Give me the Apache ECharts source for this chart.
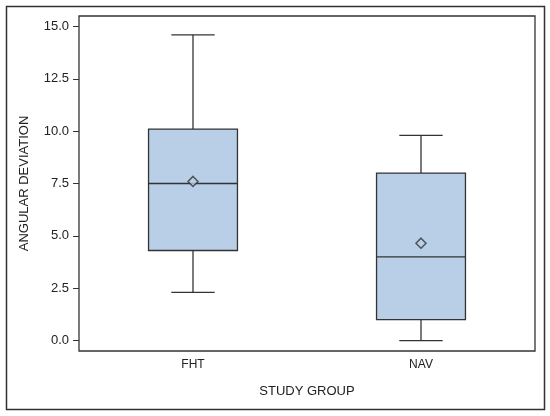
<!DOCTYPE html>
<html>
<head>
<meta charset="utf-8">
<script src="https://cdn.jsdelivr.net/npm/echarts@6/dist/echarts.min.js"></script>
<style>
    html, body { margin: 0; padding: 0; background: #fff; }
    #chartRoot { width: 550px; height: 416px; }
</style>
</head>
<body>
<div id="chartRoot"></div>
<script>
// 组别与箱线图数值（min, Q1, median, Q3, max），读自原图
const groups = ["FHT", "NAV"];
const boxStats = [
    [2.3, 4.3, 7.5, 10.1, 14.6],
    [0.0, 1.0, 4.0, 8.0, 9.8]
];
const means = [7.6, 4.65];
const yTicks = [0, 2.5, 5, 7.5, 10, 12.5, 15];

const textColor = "#222";
const lineColor = "#333";
const boxFill = "#b9cfe8";

// 箱体宽度与须线端帽宽度（占类目带宽的比例）
const boxRatio = 0.39;
const capRatio = 0.19;

let renderBox = (params, api) => {
    const idx = api.value(0);
    const band = api.size([1, 0])[0];
    const pMin = api.coord([idx, api.value(1)]);
    const pQ1 = api.coord([idx, api.value(2)]);
    const pMed = api.coord([idx, api.value(3)]);
    const pQ3 = api.coord([idx, api.value(4)]);
    const pMax = api.coord([idx, api.value(5)]);
    const cx = pMed[0];
    const hw = band * boxRatio / 2;
    const cw = band * capRatio / 2;
    const stroke = { stroke: lineColor, lineWidth: 1.3 };
    return {
        type: "group",
        children: [
            { type: "line", shape: { x1: cx, y1: pMax[1], x2: cx, y2: pQ3[1] }, style: stroke },
            { type: "line", shape: { x1: cx, y1: pQ1[1], x2: cx, y2: pMin[1] }, style: stroke },
            { type: "line", shape: { x1: cx - cw, y1: pMax[1], x2: cx + cw, y2: pMax[1] }, style: stroke },
            { type: "line", shape: { x1: cx - cw, y1: pMin[1], x2: cx + cw, y2: pMin[1] }, style: stroke },
            {
                type: "rect",
                shape: { x: cx - hw, y: pQ3[1], width: hw * 2, height: pQ1[1] - pQ3[1] },
                style: { fill: boxFill, stroke: lineColor, lineWidth: 1.3 }
            },
            { type: "line", shape: { x1: cx - hw, y1: pMed[1], x2: cx + hw, y2: pMed[1] }, style: stroke }
        ]
    };
};

let myChart = echarts.init(document.querySelector("#chartRoot"));
let option = {
    animation: false,
    textStyle: { fontFamily: "Liberation Sans, Arial, sans-serif" },
    graphic: [{
        type: "rect",
        shape: { x: 6.5, y: 6.5, width: 538, height: 403 },
        style: { fill: "none", stroke: lineColor, lineWidth: 1.5 }
    }],
    grid: {
        left: 79,
        right: 15,
        top: 16,
        bottom: 65,
        show: true,
        borderColor: lineColor,
        borderWidth: 1.3
    },
    xAxis: {
        type: "category",
        data: groups,
        name: "STUDY GROUP",
        nameLocation: "middle",
        nameGap: 34,
        nameTextStyle: { color: textColor, fontSize: 13 },
        axisLine: { show: false },
        axisTick: { alignWithLabel: true, length: 5, lineStyle: { color: lineColor } },
        axisLabel: { color: textColor, fontSize: 12, margin: 8 },
        splitLine: { show: false }
    },
    yAxis: {
        type: "value",
        min: -0.5,
        max: 15.5,
        name: "ANGULAR DEVIATION",
        nameLocation: "middle",
        nameGap: 48,
        nameTextStyle: { color: textColor, fontSize: 13 },
        axisLine: { show: false },
        axisTick: { show: true, length: 6, customValues: yTicks, lineStyle: { color: lineColor } },
        axisLabel: {
            color: textColor,
            fontSize: 13,
            margin: 10,
            customValues: yTicks,
            formatter: v => v.toFixed(1)
        },
        splitLine: { show: false }
    },
    series: [
        {
            type: "custom",
            renderItem: renderBox,
            encode: { x: 0, y: [1, 2, 3, 4, 5] },
            data: boxStats.map((s, i) => [i].concat(s))
        },
        {
            type: "scatter",
            data: groups.map((g, i) => [g, means[i]]),
            symbol: "diamond",
            symbolSize: [10, 10],
            itemStyle: { color: boxFill, borderColor: lineColor, borderWidth: 1.5 },
            z: 5
        }
    ]
};
myChart.setOption(option, true);
</script>
</body>
</html>
